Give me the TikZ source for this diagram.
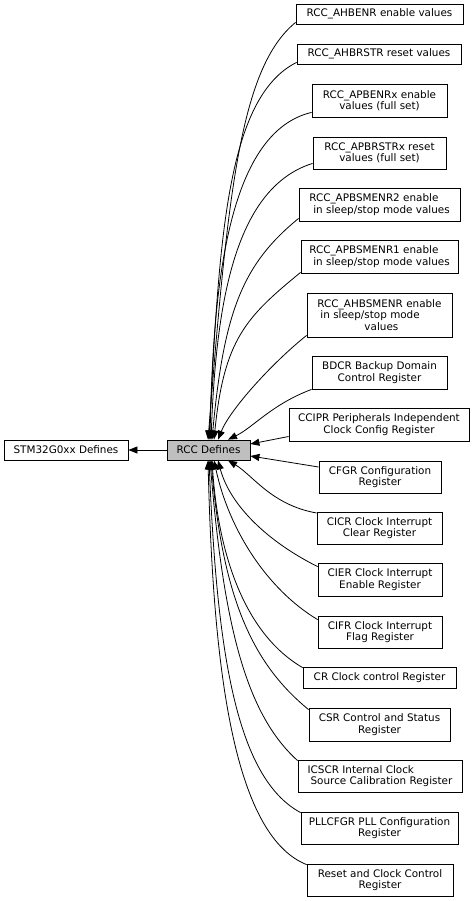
\documentclass[tikz,border=0pt]{standalone}
\usepackage{fontspec}
\setmainfont{DejaVu Sans}
\usetikzlibrary{arrows.meta,calc}
\begin{document}
\begin{tikzpicture}[x=1pt,y=-1pt,
  box/.style={draw=black, line width=0.8pt, fill=white, inner sep=0pt,
    font=\fontsize{10.4}{11.5}\selectfont, align=center},
  lbox/.style={box, align=left},
  edge/.style={draw=black, line width=0.8pt, -{Triangle[length=9pt,width=7pt]}}]
\useasboundingbox (0,0) rectangle (474,901);
% left nodes
\node[box, minimum width=124pt, minimum height=20pt] (stm) at (66,450) {STM32G0xx Defines};
\node[box, fill={rgb,255:red,191;green,191;blue,191}, minimum width=83pt, minimum height=20pt] (rcc) at (208.5,450) {RCC Defines};
% right nodes
\node[box, minimum width=167pt, minimum height=20pt] (n1) at (379.5,14) {RCC\_AHBENR enable values};
\node[box, minimum width=164pt, minimum height=20pt] (n2) at (379,54) {RCC\_AHBRSTR reset values};
\node[box, minimum width=135pt, minimum height=33pt] (n3) at (379.5,100.5) {RCC\_APBENRx enable\\values (full set)};
\node[box, minimum width=133pt, minimum height=32pt] (n4) at (379.5,153) {RCC\_APBRSTRx reset\\values (full set)};
\node[lbox, minimum width=161pt, minimum height=33pt] (n5) at (379.5,204.5) {RCC\_APBSMENR2 enable\\\hspace*{4pt}in sleep/stop mode values};
\node[lbox, minimum width=157pt, minimum height=33pt] (n6) at (379.5,256.5) {RCC\_APBSMENR1 enable\\\hspace*{4pt}in sleep/stop mode values};
\node[lbox, minimum width=145pt, minimum height=44pt] (n7) at (379.5,315) {RCC\_AHBSMENR enable\\\hspace*{3pt}in sleep/stop mode\\\hspace*{47pt}values};
\node[box, minimum width=135pt, minimum height=33pt] (n8) at (379.5,372.5) {BDCR Backup Domain\\Control Register};
\node[box, minimum width=180pt, minimum height=33pt] (n9) at (379,424.5) {CCIPR Peripherals Independent\\Clock Config Register};
\node[box, minimum width=122pt, minimum height=32pt] (n10) at (380,477) {CFGR Configuration\\Register};
\node[box, minimum width=125pt, minimum height=32pt] (n11) at (379.5,528) {CICR Clock Interrupt\\Clear Register};
\node[box, minimum width=124pt, minimum height=33pt] (n12) at (380,579.5) {CIER Clock Interrupt\\Enable Register};
\node[box, minimum width=124pt, minimum height=32pt] (n13) at (380,632) {CIFR Clock Interrupt\\Flag Register};
\node[box, minimum width=153pt, minimum height=21pt] (n14) at (379.5,677.5) {CR Clock control Register};
\node[box, minimum width=141pt, minimum height=33pt] (n15) at (379.5,724.5) {CSR Control and Status\\Register};
\node[lbox, minimum width=164pt, minimum height=32pt] (n16) at (380,776) {ICSCR Internal Clock\\\hspace*{3pt}Source Calibration Register};
\node[box, minimum width=157pt, minimum height=32pt] (n17) at (379.5,828) {PLLCFGR PLL Configuration\\Register};
\node[box, minimum width=146pt, minimum height=32pt] (n18) at (380,880) {Reset and Clock Control\\Register};
% edges
\draw[edge] (rcc.west) -- (stm.east);
\draw[edge] ($(n1.south west)+(0,-2)$) .. controls +(-55,45) and +(20,-250) .. ($(rcc.north)+(-0.5,0)$);
\draw[edge] ($(n2.south west)+(0,-2)$) .. controls +(-70,35) and +(10,-200) .. ($(rcc.north)+(0.5,0)$);
\draw[edge] ($(n3.south west)+(0,-5)$) .. controls +(-85,20) and +(3,-150) .. ($(rcc.north)+(1.5,0)$);
\draw[edge] ($(n4.south west)+(0,-6)$) .. controls +(-80,25) and +(5,-130) .. ($(rcc.north)+(2.5,0)$);
\draw[edge] ($(n5.south west)+(0,-3)$) .. controls +(-55,45) and +(12,-130) .. ($(rcc.north)+(3.5,0)$);
\draw[edge] ($(n6.south west)+(0,-1)$) .. controls +(-55,45) and +(10,-100) .. ($(rcc.north)+(5.5,0)$);
\draw[edge] ($(n7.south west)+(0,-2)$) .. controls +(-35,28) and +(12,-30) .. ($(rcc.north)+(9.5,0)$);
\draw[edge] (n8.south west) .. controls +(-40,15) and +(25,-12) .. ($(rcc.north)+(19.5,0)$);
\draw[edge] ($(n9.west)+(0,12)$) -- ($(rcc.east)+(0,-6)$);
\draw[edge] ($(n10.west)+(0,-10)$) -- ($(rcc.east)+(0,6)$);
\draw[edge] ($(n11.west)+(0,-15)$) .. controls +(-45,-8) and +(25,15) .. ($(rcc.south)+(19.5,0)$);
\draw[edge] ($(n12.north west)+(0,4)$) .. controls +(-50,-25) and +(12,45) .. ($(rcc.south)+(9.5,0)$);
\draw[edge] ($(n13.north west)+(0,4)$) .. controls +(-50,-30) and +(15,70) .. ($(rcc.south)+(5.5,0)$);
\draw[edge] ($(n14.north west)+(0,1)$) .. controls +(-60,-35) and +(6,90) .. ($(rcc.south)+(3.5,0)$);
\draw[edge] ($(n15.north west)+(0,2)$) .. controls +(-55,-45) and +(12,140) .. ($(rcc.south)+(2.5,0)$);
\draw[edge] ($(n16.north west)+(0,1)$) .. controls +(-50,-45) and +(14,170) .. ($(rcc.south)+(1.5,0)$);
\draw[edge] ($(n17.north west)+(0,1)$) .. controls +(-65,-35) and +(8,190) .. ($(rcc.south)+(0.5,0)$);
\draw[edge] ($(n18.north west)+(0,1)$) .. controls +(-75,-30) and +(5,200) .. ($(rcc.south)+(-0.5,0)$);
\end{tikzpicture}
\end{document}
